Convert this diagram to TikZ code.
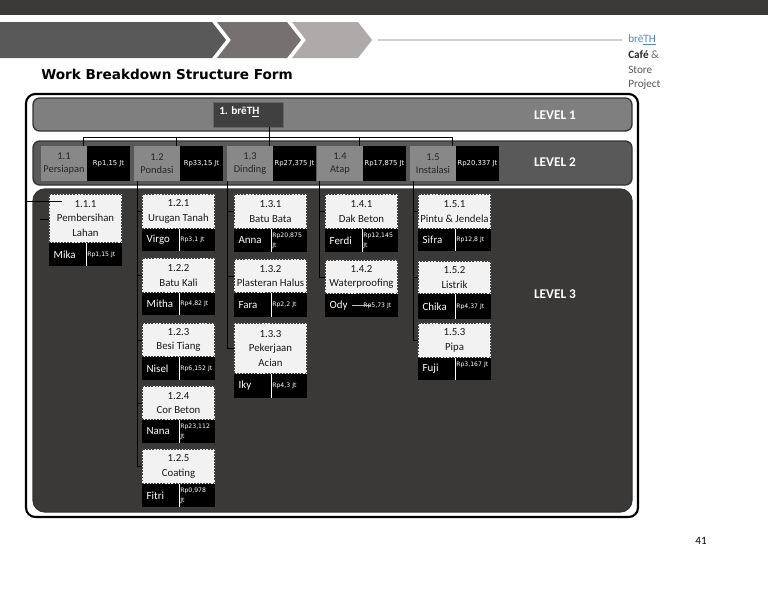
\documentclass[tikz,border=0pt]{standalone}
\usepackage{fontspec}
\setmainfont{Carlito}
\newfontfamily\dejavu{DejaVu Sans}
\usetikzlibrary{calc}
\definecolor{topbar}{HTML}{3B3A38}
\definecolor{chevA}{HTML}{595959}
\definecolor{chevB}{HTML}{767171}
\definecolor{chevC}{HTML}{AEAAAA}
\definecolor{lineC}{HTML}{D0CECE}
\definecolor{bandA}{HTML}{7F7F7F}
\definecolor{bandB}{HTML}{595959}
\definecolor{bandC}{HTML}{3A3938}
\definecolor{bandEdge}{HTML}{333333}
\definecolor{l2gray}{HTML}{888888}
\definecolor{boxw}{HTML}{F2F2F2}
\definecolor{brethblue}{HTML}{4F87C8}
\definecolor{rootfill}{HTML}{404040}
\newcommand{\wbs}[8]{%
  \node[l3box, minimum height=#4*0.75pt, anchor=north west] (n#1) at (#2,#3) {#6};
  \node[l3name, minimum height=#5*0.75pt, anchor=north west] (p#1) at (n#1.south west) {#7};
  \node[l3cost, minimum height=#5*0.75pt, anchor=north west] (c#1) at (p#1.north east) {#8};
}
\begin{document}
\begin{tikzpicture}[x=0.75pt,y=-0.75pt,
  l3box/.style={draw=black!75, fill=boxw, dash pattern=on 1.4pt off 0.9pt, line width=0.9pt,
    minimum width=73*0.75pt, inner sep=1pt, outer sep=0pt, align=center,
    font=\fontsize{8.1}{10.8}\selectfont, text=black!90},
  l3name/.style={fill=black, text=white, minimum width=37*0.75pt, inner xsep=3.5pt, inner ysep=0pt,
    outer sep=0pt, text width=37*0.75pt-7pt, align=left, font=\fontsize{8.2}{10}\selectfont},
  l3cost/.style={fill=black, text=white, minimum width=36*0.75pt, inner xsep=1pt, inner ysep=0.5pt,
    outer sep=0pt, text width=36*0.75pt-2pt, align=left, font=\dejavu\fontsize{4.6}{7.5}\selectfont},
  l2box/.style={fill=l2gray, minimum width=46*0.75pt, minimum height=35*0.75pt, inner sep=0pt,
    outer sep=0pt, align=center, font=\fontsize{7.8}{9.8}\selectfont, text=black!85, anchor=north west},
  l2cost/.style={fill=black, text=white, minimum width=43*0.75pt, minimum height=35*0.75pt, inner sep=0pt,
    outer sep=0pt, font=\dejavu\fontsize{5.1}{6}\selectfont, anchor=north west},
  lvl/.style={text=white, font=\bfseries\fontsize{10}{12}\selectfont},
  conn/.style={draw=black, line width=0.75pt},
  band/.style={draw=bandEdge, line width=1pt, rounded corners=5pt},
  side/.style={anchor=west, font=\fontsize{8.4}{10}\selectfont, inner sep=0pt}
]
\useasboundingbox (0,0) rectangle (768,594);
\fill[white] (0,0) rectangle (768,594);
% top bar and chevrons
\fill[topbar] (0,0) rectangle (768,15);
\fill[chevA] (0,22) -- (212,22) -- (226,40) -- (212,58) -- (0,58) -- cycle;
\fill[chevB] (217,22) -- (287,22) -- (301,40) -- (287,58) -- (217,58) -- (231,40) -- cycle;
\fill[chevC] (292,22) -- (358,22) -- (372,40) -- (358,58) -- (292,58) -- (306,40) -- cycle;
\draw[lineC, line width=2.2pt] (378,40) -- (622,40);
% side text
\node[side, text=brethblue] (s1) at (628,40) {brē\underline{TH}};
\node[side, text=black!85] (s2) at (628,55) {\textbf{Café} \textcolor{black!60}{\&}};
\node[side, text=black!65] (s3) at (628,70) {Store};
\node[side, text=black!65] (s4) at (628,85) {Project};
% title
\node[anchor=west, inner sep=0pt, font=\dejavu\bfseries\fontsize{10.2}{12}\selectfont] (title) at (41,74) {Work Breakdown Structure Form};
% outer frame and bands
\draw[black, line width=1.6pt, fill=white, rounded corners=7pt] (26,94) rectangle (638,517);
\draw[band, fill=bandA] (33,98) rectangle (632,131);
\draw[band, fill=bandB] (33,141) rectangle (632,185);
\draw[band, fill=bandC, rounded corners=9pt] (33,189) rectangle (632,512);
\node[lvl] (lv1) at (555,115) {LEVEL 1};
\node[lvl] (lv2) at (555,162) {LEVEL 2};
\node[lvl] (lv3) at (555,294) {LEVEL 3};
% root
\node[fill=rootfill, draw=black!60, line width=0.4pt, minimum width=70*0.75pt, minimum height=25*0.75pt,
  inner sep=0pt, outer sep=0pt, anchor=north west] (root) at (213,102) {};
\node[anchor=west, inner sep=0pt, text=white, font=\bfseries\fontsize{8.4}{10}\selectfont] (roott)
  at ($(root.west)+(6,-3)$) {1. brēT\underline{H}};
% level 2
\node[l2box] (g11) at (41,146) {1.1\\Persiapan};
\node[l2cost] (k11) at (g11.north east) {Rp1,15 Jt};
\node[l2box] (g12) at (134,146) {1.2\\Pondasi};
\node[l2cost] (k12) at (g12.north east) {Rp33,15 Jt};
\node[l2box] (g13) at (227,146) {1.3\\Dinding};
\node[l2cost] (k13) at (g13.north east) {Rp27,375 Jt};
\node[l2box] (g14) at (317,146) {1.4\\Atap};
\node[l2cost] (k14) at (g14.north east) {Rp17,875 Jt};
\node[l2box] (g15) at (410,146) {1.5\\Instalasi};
\node[l2cost] (k15) at (g15.north east) {Rp20,337 Jt};
% bus
\coordinate (busy) at (0,137);
\foreach \i in {11,12,13,14,15} {
  \coordinate (u\i) at ($(g\i.north east)+(-4,0)$);
  \draw[conn] (u\i) -- (u\i |- busy);
}
\draw[conn] (u11 |- busy) -- (u15 |- busy);
\draw[conn] (root.south -| u13) -- (u13 |- busy);
% level 3 items
\wbs{111}{49}{194}{49}{23}{1.1.1\\Pembersihan\\Lahan}{Mika}{Rp1,15 Jt}
\wbs{121}{142}{194}{35}{22}{1.2.1\\Urugan Tanah}{Virgo}{Rp3,1 Jt}
\wbs{122}{142}{258}{35}{22}{1.2.2\\Batu Kali}{Mitha}{Rp4,82 Jt}
\wbs{123}{142}{323}{34}{23}{1.2.3\\Besi Tiang}{Nisel}{Rp6,152 Jt}
\wbs{124}{142}{386}{34}{23}{1.2.4\\Cor Beton}{Nana}{Rp23,112\\Jt}
\wbs{125}{142}{449}{35}{23}{1.2.5\\Coating}{Fitri}{Rp0,978\\Jt}
\wbs{131}{234}{194}{35}{23}{1.3.1\\Batu Bata}{Anna}{Rp20,875\\Jt}
\wbs{132}{234}{259}{34}{24}{1.3.2\\Plasteran Halus}{Fara}{Rp2,2 Jt}
\wbs{133}{234}{323}{51}{24}{1.3.3\\Pekerjaan\\Acian}{Iky}{Rp4,3 Jt}
\wbs{141}{325}{194}{35}{23}{1.4.1\\Dak Beton}{Ferdi}{Rp12,145\\Jt}
\wbs{142}{325}{260}{34}{23}{1.4.2\\Waterproofing}{Ody}{Rp5,73 Jt}
\wbs{151}{418}{194}{35}{22}{1.5.1\\Pintu \& Jendela}{Sifra}{Rp12,8 Jt}
\wbs{152}{418}{261}{33}{25}{1.5.2\\Listrik}{Chika}{Rp4,37 Jt}
\wbs{153}{418}{323}{35}{22}{1.5.3\\Pipa}{Fuji}{Rp3,167 Jt\\\mbox{}}
\foreach \i in {111,121,122,123,124,125,131,132,133,141,151,152,153}
  \draw[white, line width=0.6pt] (p\i.north east) -- (p\i.south east);
\draw[white!75!black, line width=0.5pt] ($(p142.west)+(27,0)$) -- ($(c142.west)+(9,0)$);
% level 3 connectors
\coordinate (d12) at ($(g12.south west)+(3,0)$);
\coordinate (d13) at ($(g13.south west)+(0,0)$);
\coordinate (d14) at ($(g14.south west)+(2,0)$);
\coordinate (d15) at ($(g15.south west)+(3,0)$);
\foreach \j in {121,122,123,124,125} \draw[conn] (d12) |- (n\j.west);
\foreach \j in {131,132,133} \draw[conn] (d13) |- (n\j.west);
\foreach \j in {141,142} \draw[conn] (d14) |- (n\j.west);
\foreach \j in {151,152,153} \draw[conn] (d15) |- (n\j.west);
\coordinate (a111) at (25,201);
\coordinate (b111) at (62,201);
\coordinate (t111) at (40,219);
\draw[conn] (a111) -- (b111);
\draw[conn] (t111) -- (t111 -| n111.west);
% page number
\node[font=\fontsize{8.4}{10}\selectfont] (pg) at (701,541) {41};
\end{tikzpicture}
\end{document}
